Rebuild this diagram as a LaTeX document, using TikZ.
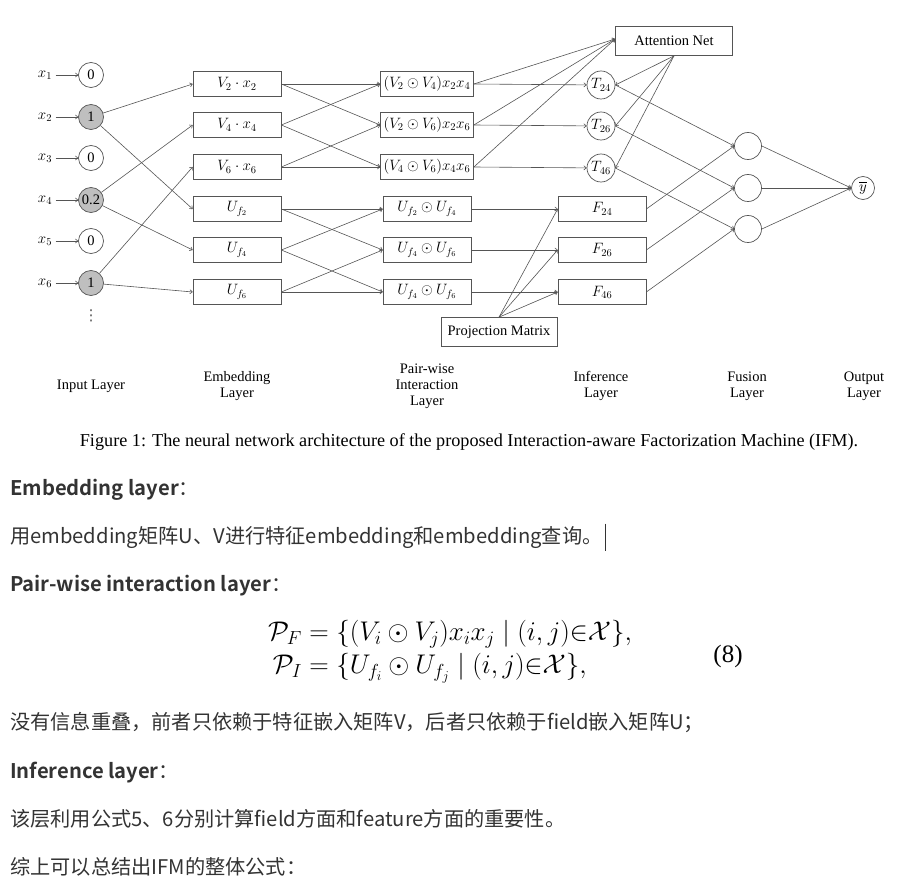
\documentclass[tikz,border=0pt]{standalone}
\usepackage{fix-cm}
\usepackage{amsmath}
\usepackage{fontspec}
\setmainfont{Liberation Serif}
\newfontfamily\cjk{Noto Sans CJK SC}[BoldFont={Noto Sans CJK SC Bold}]
\newfontfamily\dv{DejaVu Sans}
\usetikzlibrary{arrows.meta}
\definecolor{edge}{HTML}{555555}
\definecolor{bodytext}{HTML}{333333}
\newcommand\dgm{\fontsize{14.5}{16}\selectfont}
\newcommand\dgmath{\fontsize{15}{16}\selectfont}
\newcommand\txt{\fontsize{20.2}{24}\selectfont\cjk}

\begin{document}
\begin{tikzpicture}[x=1pt, y=-1pt,
  box/.style={draw=edge, line width=0.7pt, minimum width=88pt, minimum height=25pt, inner sep=1pt, font=\dgmath},
  wbox/.style={box, minimum width=93pt},
  inp/.style={circle, draw=edge, line width=0.7pt, minimum size=25pt, inner sep=0pt, font=\dgm},
  on/.style={inp, fill=black!25},
  tnode/.style={circle, draw=edge, line width=0.7pt, minimum size=28pt, inner sep=0pt, font=\dgmath},
  fus/.style={circle, draw=edge, line width=0.7pt, minimum size=27pt, inner sep=0pt},
  arrow/.style={-{To[length=3pt,width=4.5pt]}, draw=edge, line width=0.6pt},
  lab/.style={font=\dgm, align=center},
  para/.style={anchor=base west, inner sep=0pt, text=bodytext}
]
\useasboundingbox (0,0) rectangle (912,885);

% input layer
\node[font=\dgmath] (x1) at (45,75) {$x_1$};
\node[font=\dgmath] (x2) at (45,117) {$x_2$};
\node[font=\dgmath] (x3) at (45,158) {$x_3$};
\node[font=\dgmath] (x4) at (45,200) {$x_4$};
\node[font=\dgmath] (x5) at (45,241) {$x_5$};
\node[font=\dgmath] (x6) at (45,283) {$x_6$};
\node[inp] (i1) at (91,75) {0};
\node[on] (i2) at (91,117) {1};
\node[inp] (i3) at (91,158) {0};
\node[on] (i4) at (91,200) {0.2};
\node[inp] (i5) at (91,241) {0};
\node[on] (i6) at (91,283) {1};
\node[font=\fontsize{15}{16}\dv, text=edge] (dots) at (91,316) {⋮};

% embedding layer
\node[box] (v2) at (237,84) {$V_2\cdot x_2$};
\node[box] (v4) at (237,125) {$V_4\cdot x_4$};
\node[box] (v6) at (237,167) {$V_6\cdot x_6$};
\node[box] (u2) at (237,209) {$U_{f_2}$};
\node[box] (u4) at (237,250) {$U_{f_4}$};
\node[box] (u6) at (237,292) {$U_{f_6}$};

% pair-wise interaction layer
\node[wbox] (p24) at (427,84) {$(V_2\odot V_4)x_2x_4$};
\node[wbox] (p26) at (427,125) {$(V_2\odot V_6)x_2x_6$};
\node[wbox] (p46) at (427,167) {$(V_4\odot V_6)x_4x_6$};
\node[box] (q24) at (427,209) {$U_{f_2}\odot U_{f_4}$};
\node[box] (q26) at (427,250) {$U_{f_4}\odot U_{f_6}$};
\node[box] (q46) at (427,292) {$U_{f_4}\odot U_{f_6}$};

% inference layer
\node[box, font=\dgm, minimum width=117pt, minimum height=29pt] (att) at (674,41) {Attention Net};
\node[box, font=\dgm, minimum width=116pt, minimum height=29pt] (proj) at (499,332) {Projection Matrix};
\node[tnode] (t24) at (601,85) {$T_{24}$};
\node[tnode] (t26) at (601,126) {$T_{26}$};
\node[tnode] (t46) at (601,168) {$T_{46}$};
\node[box] (f24) at (602,209) {$F_{24}$};
\node[box] (f26) at (602,250) {$F_{26}$};
\node[box] (f46) at (602,292) {$F_{46}$};

% fusion and output
\node[fus] (m1) at (748,146) {};
\node[fus] (m2) at (748,188) {};
\node[fus] (m3) at (748,229) {};
\node[inp, font=\dgmath, minimum size=23pt] (out) at (863,188) {$\overline{y}$};

\foreach \k in {1,...,6} \draw[arrow] (x\k) -- (i\k);
\draw[arrow] (i2) -- (v2.west);
\draw[arrow] (i2) -- (u2.west);
\draw[arrow] (i4) -- (v4.west);
\draw[arrow] (i4) -- (u4.west);
\draw[arrow] (i6) -- (v6.west);
\draw[arrow] (i6) -- (u6.west);

\draw[arrow] (v2.east) -- (p24.west);
\draw[arrow] (v2.east) -- (p26.west);
\draw[arrow] (v4.east) -- (p24.west);
\draw[arrow] (v4.east) -- (p46.west);
\draw[arrow] (v6.east) -- (p26.west);
\draw[arrow] (v6.east) -- (p46.west);
\draw[arrow] (u2.east) -- (q24.west);
\draw[arrow] (u2.east) -- (q26.west);
\draw[arrow] (u4.east) -- (q24.west);
\draw[arrow] (u4.east) -- (q46.west);
\draw[arrow] (u6.east) -- (q26.west);
\draw[arrow] (u6.east) -- (q46.west);

\foreach \a/\b in {24/24,26/26,46/46} {
  \draw[arrow] (p\a.east) -- (t\b);
  \draw[arrow] (p\a.east) -- ([yshift=2pt]att.west);
  \draw[arrow] (att.south) -- (t\b.east);
  \draw[arrow] (q\a.east) -- (f\b.west);
  \draw[arrow] (proj.north) -- (f\b.west);
}
\draw[arrow] (t24.east) -- (m1.west);
\draw[arrow] (t26.east) -- (m2.west);
\draw[arrow] (t46.east) -- (m3.west);
\draw[arrow] (f24.east) -- (m1.west);
\draw[arrow] (f26.east) -- (m2.west);
\draw[arrow] (f46.east) -- (m3.west);
\foreach \k in {1,2,3} \draw[arrow] (m\k.east) -- (out.west);

% layer names
\node[lab] (l1) at (91,386) {Input Layer};
\node[lab] (l2) at (237,386) {Embedding\\Layer};
\node[lab] (l3) at (427,386) {Pair-wise\\Interaction\\Layer};
\node[lab] (l4) at (601,386) {Inference\\Layer};
\node[lab] (l5) at (747,386) {Fusion\\Layer};
\node[lab] (l6) at (864,386) {Output\\Layer};
\node[font=\fontsize{18.2}{22}\selectfont] (cap) at (469,442) {Figure 1: The neural network architecture of the proposed Interaction-aware Factorization Machine (IFM).};

% text below
\node[para] (h1) at (10,495) {\txt\bfseries Embedding layer\mdseries ：};
\node[para] (p1) at (10,543) {\txt 用embedding矩阵U、V进行特征embedding和embedding查询。};
\draw[bodytext, line width=0.6pt] ([xshift=3pt]p1.east) ++(0,-13.5) -- ++(0,27);
\node[para] (h2) at (10,591) {\txt\bfseries Pair-wise interaction layer\mdseries ：};
\node[anchor=center, inner sep=0pt] (eq) at (450,651) {\fontsize{27}{30}\selectfont$\begin{aligned}
  \mathcal{P}_F &= \{(V_i\odot V_j)x_ix_j \mid (i,j){\in}\mathcal{X}\},\\
  \mathcal{P}_I &= \{U_{f_i}\odot U_{f_j} \mid (i,j){\in}\mathcal{X}\},
\end{aligned}$};
\node[inner sep=0pt, font=\fontsize{25}{28}\selectfont] (eqno) at (728,656) {(8)};
\node[para] (p2) at (10,729) {\txt 没有信息重叠，前者只依赖于特征嵌入矩阵V，后者只依赖于field嵌入矩阵U；};
\node[para] (h3) at (10,778) {\txt\bfseries Inference layer\mdseries ：};
\node[para] (p3) at (10,826) {\txt 该层利用公式5、6分别计算field方面和feature方面的重要性。};
\node[para] (p4) at (10,874) {\txt 综上可以总结出IFM的整体公式：};
\end{tikzpicture}
\end{document}
